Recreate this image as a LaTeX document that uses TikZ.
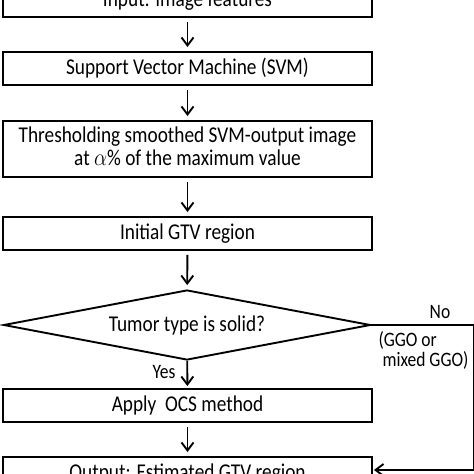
\documentclass[tikz,border=0pt]{standalone}
\usepackage{fontspec}
\setmainfont{Carlito}
\usetikzlibrary{shapes.geometric,arrows.meta}
\newcommand\stretchtext[1]{\scalebox{1}[1.17]{#1}}

\tikzset{
  stepbox/.style={draw, rectangle, line width=1.9pt, minimum width=369pt, minimum height=33pt, inner sep=0pt, align=center, font=\fontsize{19.3}{19.7}\selectfont},
  question/.style={draw, diamond, aspect=5.2, line width=1.9pt, minimum width=367pt, minimum height=70pt, inner sep=0pt, font=\fontsize{19.3}{19.7}\selectfont},
  flow/.style={line width=1.9pt, shorten <=4pt, shorten >=4pt, -{Straight Barb[length=8pt,width=12pt]}},
  tag/.style={inner sep=0pt, font=\fontsize{17.5}{17}\selectfont}
}

\begin{document}
\begin{tikzpicture}[x=1pt, y=-1pt]
		%%%%% START %%%%%
		\useasboundingbox (0,0) rectangle (474,474);
		\clip (0,0) rectangle (474,474);
		
		\node[stepbox] (input) at (187.5, 0.5) {\stretchtext{Input: image features}};
		\node[stepbox] (svm) at (187.5, 68.5) {\stretchtext{Support Vector Machine (SVM)}};
		\node[stepbox, minimum height=56pt] (thresh) at (187.5, 149) {\stretchtext{\begin{tabular}{@{}c@{}}Thresholding smoothed SVM-output image\\ at $\alpha$\% of the maximum value\end{tabular}}};
		\node[stepbox] (initial) at (187.5, 233.5) {\stretchtext{Initial GTV region}};
		\node[question] (solid) at (187, 325) {\stretchtext{Tumor type is solid?}};
		\node[stepbox] (ocs) at (187.5, 405.5) {\stretchtext{Apply~ OCS method}};
		\node[stepbox] (output) at (187.5, 473.5) {\stretchtext{Output: Estimated GTV region}};
		
		\draw[flow] (input) -- (svm);
		\draw[flow] (svm) -- (thresh);
		\draw[flow] (thresh) -- (initial);
		\draw[flow] (initial) -- (solid);
		\draw[flow, shorten <=0pt, shorten >=2pt] (solid) -- (ocs);
		\draw[flow] (ocs) -- (output);
		\draw[flow, shorten <=0pt, shorten >=1pt] (solid.east) -- ++(102, 0) |- ([yshift=3.5pt]output.east);
		
		\node[tag] (yes) at (164, 372) {\stretchtext{Yes}};
		\node[tag] (no) at (440, 312) {\stretchtext{No}};
		\node[tag] (ggo) at (423.5, 352) {\stretchtext{\begin{tabular}{@{}l@{}}(GGO or\\ \hspace*{4pt}mixed GGO)\end{tabular}}};
		
		%%%%% END %%%%%
	\end{tikzpicture}
\end{document}
